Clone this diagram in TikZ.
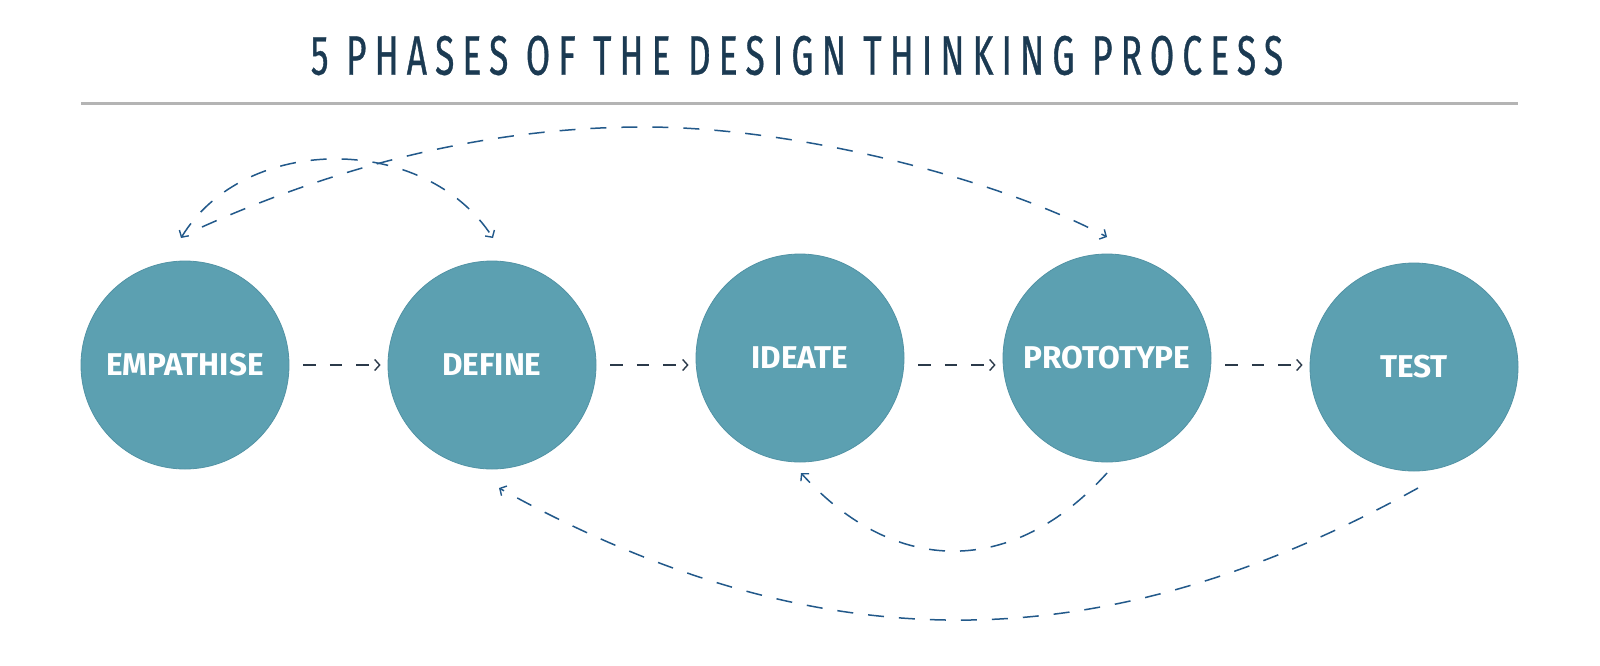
\documentclass[tikz,border=0pt]{standalone}
\usepackage{fontspec}
\setmainfont{Fira Sans}
\newfontfamily\titlefont[FakeStretch=0.52,LetterSpace=12,FakeBold=0.5]{Fira Sans}
\newfontfamily\labelfont{Fira Sans}
\usetikzlibrary{arrows.meta,calc}
\definecolor{phasefill}{HTML}{5CA0B1}
\definecolor{phaseedge}{HTML}{5293A5}
\definecolor{titlecol}{HTML}{1B3A52}
\definecolor{rulecol}{HTML}{B4B4B4}
\definecolor{flowcol}{HTML}{2B3A4A}
\definecolor{loopcol}{HTML}{22598A}
\begin{document}
\begin{tikzpicture}[x=1pt,y=-1pt,
  phase/.style={circle, fill=phasefill, draw=phaseedge, line width=0.8pt,
    minimum size=208pt, inner sep=0pt, text=white,
    font=\labelfont\bfseries\fontsize{31.5}{32}\selectfont},
  flowarrow/.style={draw=flowcol, line width=1.6pt, dash pattern=on 12.5pt off 14pt,
    -{Straight Barb[length=5pt,width=11pt,line width=1.4pt]}},
  looparrow/.style={draw=loopcol, line width=1.5pt, dash pattern=on 16pt off 15pt,
    -{Straight Barb[length=5pt,width=11pt,line width=1.4pt]}},
  loopboth/.style={looparrow,
    {Straight Barb[length=5pt,width=11pt,line width=1.4pt]}-{Straight Barb[length=5pt,width=11pt,line width=1.4pt]}},
  rule/.style={draw=rulecol, line width=3pt}
]
\useasboundingbox[fill=white] (0,0) rectangle (1600,665);

% title and rule
\node[inner sep=0pt, text=titlecol] (title) at (797,55.5)
  {\resizebox{972pt}{39pt}{\titlefont 5 PHASES OF THE DESIGN THINKING PROCESS}};
\coordinate (ruleL) at (81,103);
\coordinate (ruleR) at (1518,103);
\draw[rule] (ruleL) -- (ruleR);

% phases
\node[phase] (emp)  at (185,365)  {EMPATHISE};
\node[phase] (def)  at (492,365)  {DEFINE};
\node[phase] (ide)  at (800,358)  {IDEATE};
\node[phase] (pro)  at (1107,358) {PROTOTYPE};
\node[phase] (test) at (1414,367) {TEST};

% straight flow arrows
\coordinate (axis) at (0,365);
\draw[flowarrow] ($(emp.east |- axis)+(14,0)$) -- ($(def.west |- axis)+(-7,0)$);
\draw[flowarrow] ($(def.east |- axis)+(14,0)$) -- ($(ide.west |- axis)+(-7,0)$);
\draw[flowarrow] ($(ide.east |- axis)+(14,0)$) -- ($(pro.west |- axis)+(-7,0)$);
\draw[flowarrow] ($(pro.east |- axis)+(14,0)$) -- ($(test.west |- axis)+(-7,0)$);

% loops above
\draw[loopboth] ($(emp.center)+(-4,-127)$) .. controls (245,133) and (425,133) .. ($(def.center)+(1,-127)$);
\coordinate (toppeak) at (644,127);
\draw[looparrow] ($(emp.center)+(17,-138)$) .. controls (325,172) and (475,127) .. (toppeak)
  .. controls (800,127) and (1000,180) .. ($(pro.center)+(0,-121)$);

% loops below
\draw[looparrow] ($(pro.center)+(0,115)$) .. controls (1013,577) and (895,577) .. ($(ide.center)+(1,115)$);
\draw[looparrow] ($(test.center)+(4,121)$) .. controls (1100,664) and (817,664) .. ($(def.center)+(7,123)$);
\end{tikzpicture}
\end{document}
